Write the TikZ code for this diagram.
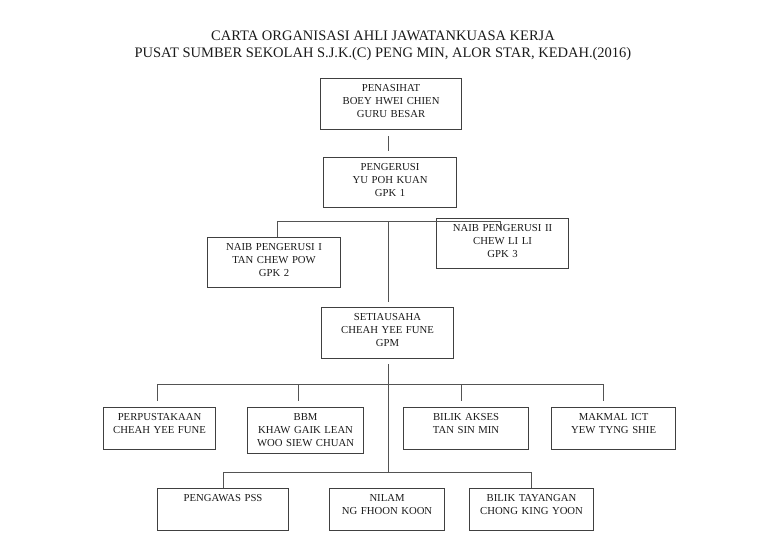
\documentclass[tikz,border=0pt]{standalone}
\usepackage{fontspec}
\setmainfont{Liberation Serif}
\usetikzlibrary{calc}
\definecolor{ChartLine}{HTML}{404040}
\definecolor{ChartText}{HTML}{1A1A1A}

\begin{document}
\begin{tikzpicture}[
  x=1pt, y=-1pt,
  box/.style 2 args={draw=ChartLine,line width=1.1pt,anchor=north west,align=center,
              text width=#1,text height=8pt,text depth=#2,inner xsep=0pt,inner ysep=5pt,
              font=\fontsize{10.7}{13}\selectfont,text=ChartText},
  heading/.style={align=center,font=\fontsize{14.5}{16.5}\selectfont,text=ChartText},
  conn/.style={draw=ChartLine!90,line width=0.8pt}
]
\useasboundingbox (0,0) rectangle (768,543);

\node[heading] (title) at (383,45.5) {CARTA ORGANISASI AHLI JAWATANKUASA KERJA\\PUSAT SUMBER SEKOLAH S.J.K.(C) PENG MIN, ALOR STAR, KEDAH.(2016)};

\node[box={141}{33}] (penasihat) at (320,78) {PENASIHAT\\BOEY HWEI CHIEN\\GURU BESAR};
\node[box={133}{32}] (pengerusi) at (323,157) {PENGERUSI\\YU POH KUAN\\GPK 1};
\node[box={133}{32}] (naib1) at (207,237) {NAIB PENGERUSI I\\TAN CHEW POW\\GPK 2};
\node[box={132}{32}] (naib2) at (436,218) {NAIB PENGERUSI II\\CHEW LI LI\\GPK 3};
\node[box={132}{33}] (setiausaha) at (321,307) {SETIAUSAHA\\CHEAH YEE FUNE\\GPM};

\node[box={112}{24}] (perpustakaan) at (103,407) {PERPUSTAKAAN\\CHEAH YEE FUNE};
\node[box={116}{28}] (bbm) at (247,407) {BBM\\KHAW GAIK LEAN\\WOO SIEW CHUAN};
\node[box={125}{24}] (bilikakses) at (403,407) {BILIK AKSES\\TAN SIN MIN};
\node[box={124}{24}] (makmal) at (551,407) {MAKMAL ICT\\YEW TYNG SHIE};

\node[box={131}{24}] (pengawas) at (157,488) {PENGAWAS PSS};
\node[box={115}{24}] (nilam) at (329,488) {NILAM\\NG FHOON KOON};
\node[box={124}{24}] (tayangan) at (469,488) {BILIK TAYANGAN\\CHONG KING YOON};

% bus lines
\coordinate (top bus) at (388,221);
\coordinate (top bus west) at (277,221);
\coordinate (top bus east) at (500,221);
\coordinate (mid bus) at (388,384);
\coordinate (low bus) at (388,472);

\draw[conn,shorten <=6pt,shorten >=6pt] (penasihat.south -| top bus) -- (pengerusi.north -| top bus);
\draw[conn] (top bus west |- naib1.north) -- (top bus west) -- (top bus east) -- ++(0,8);
\draw[conn,shorten >=5pt] (top bus) -- (setiausaha.north -| top bus);
\draw[conn,shorten <=5pt] (setiausaha.south -| mid bus) -- (low bus);

\draw[conn] ([xshift=-2pt]perpustakaan.north |- mid bus) -- ([xshift=-10pt]makmal.north |- mid bus);
\foreach \post/\dx in {perpustakaan/-2,bbm/-7,bilikakses/-4.5,makmal/-10}
  \draw[conn,shorten >=6pt] ([xshift=\dx pt]\post.north |- mid bus) -- ([xshift=\dx pt]\post.north);

\draw[conn] (pengawas.north |- low bus) -- (tayangan.north |- low bus);
\foreach \post in {pengawas,tayangan}
  \draw[conn] (\post.north |- low bus) -- (\post.north);
\end{tikzpicture}
\end{document}
